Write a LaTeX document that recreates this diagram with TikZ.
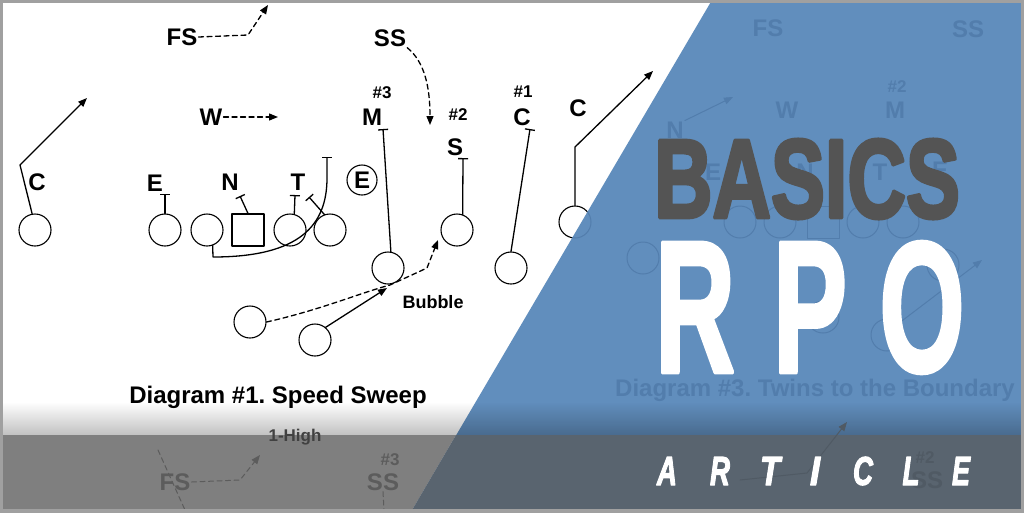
\documentclass[tikz,border=0pt]{standalone}
\usepackage{fontspec}
\setmainfont{Liberation Sans}
\newfontfamily\titlefont[FakeBold=3.5]{Liberation Sans Bold}
\newfontfamily\rpofont[FakeBold=2.5]{Liberation Sans Bold}
\newfontfamily\tagfont[FakeBold=3]{Liberation Sans Bold Italic}
\usepackage{graphicx}
\usetikzlibrary{arrows.meta,fadings}
\frenchspacing

\definecolor{boxblue}{RGB}{97,142,189}
\definecolor{ghostblue}{RGB}{82,125,172}
\definecolor{bargray}{RGB}{127,127,127}
\definecolor{barslate}{RGB}{89,100,111}
\definecolor{ghostgray}{RGB}{92,92,92}
\definecolor{ghostslate}{RGB}{80,90,100}
\definecolor{titlegray}{RGB}{84,84,84}
\definecolor{framegray}{RGB}{160,160,160}

\begin{document}
\begin{tikzpicture}[x=1pt,y=-1pt,line cap=round,line join=round,>={Triangle[length=9pt,width=7pt]},
  player/.style={circle,draw,line width=1.1pt,minimum size=32pt,inner sep=0pt},
  lineman/.style={rectangle,draw,line width=1.1pt,minimum size=32pt,inner sep=0pt},
  defl/.style={font=\fontsize{24}{24}\selectfont\bfseries,inner sep=1pt},
  numl/.style={font=\fontsize{17}{17}\selectfont\bfseries,inner sep=1pt},
  route/.style={line width=1.3pt},
  dashroute/.style={route,dash pattern=on 5pt off 3.5pt},
  blk/.style={route,-{Bar[width=10pt]}},
  ghost/.style={ghostblue,line width=1pt},
  ghostl/.style={defl,text=ghostblue},
  bigletter/.style={inner sep=0pt,text=white}]
\useasboundingbox (0,0) rectangle (1024,512);
\fill[white] (0,0) rectangle (1024,512);
\node[player] (wl) at (35,230) {};
\node[player] (tl) at (165,230) {};
\node[player] (gl) at (207,230) {};
\node[lineman] (ctr) at (248,230) {};
\node[player] (gr) at (290,230) {};
\node[player] (tr) at (330,230) {};
\node[player] (wing) at (388,268) {};
\node[player] (slot) at (457,230) {};
\node[player] (xrec) at (511,268) {};
\node[player] (zrec) at (575,222) {};
\node[player] (qb) at (250,322) {};
\node[player] (hb) at (315,340) {};
\node[defl] (fs) at (182,37) {FS};
\node[defl] (ss) at (390,38) {SS};
\node[defl] (wlb) at (211,117) {W};
\node[defl] (mlb) at (372,117) {M};
\node[numl] (num3) at (382,93) {\#3};
\node[defl] (slb) at (455,147) {S};
\node[numl] (num2) at (458,115) {\#2};
\node[defl] (cbone) at (522,117) {C};
\node[numl] (num1) at (523,92) {\#1};
\node[defl] (cbtwo) at (578,108) {C};
\node[defl] (cbleft) at (37,182) {C};
\node[defl] (deleft) at (155,183) {E};
\node[defl] (nose) at (230,182) {N};
\node[defl] (tackle) at (298,182) {T};
\node[defl,circle,draw,line width=1.1pt,inner sep=0pt,minimum size=30pt] (deright) at (362,180) {E};
\node[font=\fontsize{18}{18}\selectfont\bfseries] (bubble) at (433,302) {Bubble};
\node[font=\fontsize{24}{24}\selectfont\bfseries] (caption) at (278,397) {Diagram \#1. Speed Sweep};
\draw[route,->] (wl.100) -- (20,165) -- (87,98);
\draw[blk] (tl.north) -- (165,194);
\draw[blk] (ctr.north) -- (240,196);
\draw[blk] (gr.75) -- (295,195);
\draw[blk] (tr.110) -- (309,197);
\draw[blk] (gl.-70) -- (213,257) .. controls (300,257) and (327,225) .. (327,178) -- (327,157);
\draw[blk] (wing.80) -- (383,129);
\draw[blk] (slot.70) -- (463,158);
\draw[blk] (xrec.north) -- (530,129);
\draw[route,->] (zrec.north) -- (575,147) -- (653,71);
\draw[dashroute,->] (fs.east) -- (248,35) -- (268,5);
\draw[dashroute,->] (wlb.east) -- (278,117);
\draw[dashroute,->] (ss.south east) .. controls (425,62) and (430,88) .. (430,125);
\draw[route,->] (hb.50) -- (387,288);
\draw[dashroute,->] (qb.east) .. controls (320,310) and (360,293) .. (390,285) -- (427,268) -- (438,240);
\fill[boxblue] (712,0) -- (1024,0) -- (1024,512) -- (411,512) -- cycle;
\begin{scope}
\clip (712,0) -- (1024,0) -- (1024,512) -- (411,512) -- cycle;
\draw[ghost] (zrec) circle (16pt);
\end{scope}
\node[ghostl] (gfs) at (768,28) {FS};
\node[ghostl] (gss) at (968,29) {SS};
\node[ghostl,font=\fontsize{17}{17}\selectfont\bfseries] (gnum2) at (897,87) {\#2};
\node[ghostl] (gm) at (895,110) {M};
\node[ghostl] (gw) at (787,110) {W};
\node[ghostl] (gn) at (675,130) {N};
\node[ghostl] (ge) at (713,172) {E};
\node[ghostl] (gnose) at (805,172) {N};
\node[ghostl] (gt) at (880,172) {T};
\node[ghostl] (geright) at (940,170) {E};
\node[player,ghost] (gp1) at (740,222) {};
\node[player,ghost] (gp2) at (780,222) {};
\node[lineman,ghost] (gp3) at (823,222) {};
\node[player,ghost] (gp4) at (863,222) {};
\node[player,ghost] (gp5) at (903,222) {};
\node[player,ghost] (gp6) at (643,258) {};
\node[player,ghost] (gp7) at (823,317) {};
\node[player,ghost] (gp8) at (887,335) {};
\node[player,ghost] (gp9) at (943,265) {};
\draw[ghost,->] (gn.north east) -- (733,97);
\draw[ghost,->] (gp8.45) -- (982,260);
\node[ghostl] (gcaption) at (815,390) {Diagram \#3. Twins to the Boundary};
\fill[black,opacity=0.25,path fading=north] (0,402) rectangle (1024,436);
\fill[bargray] (0,435) -- (456,435) -- (411,512) -- (0,512) -- cycle;
\fill[barslate] (456,435) -- (1024,435) -- (1024,512) -- (411,512) -- cycle;
\node[font=\fontsize{17}{17}\selectfont\bfseries,text=ghostgray!70!black] (onehigh) at (295,437) {1-High};
\node[defl,text=ghostgray] (bfs) at (175,482) {FS};
\node[defl,text=ghostgray] (bss) at (383,482) {SS};
\node[numl,text=ghostgray] (bnum3) at (390,460) {\#3};
\draw[dashroute,ghostgray,line width=1pt] (158,450) -- (185,510);
\draw[dashroute,ghostgray,line width=1pt,->] (bfs.east) -- (240,480) -- (260,455);
\draw[dashroute,ghostgray,line width=1pt] (bss.south) -- (384,510);
\node[defl,text=ghostslate] (bss2) at (927,480) {SS};
\node[numl,text=ghostslate] (bnum2) at (925,458) {\#2};
\draw[ghostslate,line width=1pt,->] (740,480) -- (807,473) -- (847,422);
\node[inner sep=0pt,text=titlegray] (basics) at (807,179) {\resizebox{306pt}{78pt}{\titlefont BASICS}};
\node[bigletter] (rpoR) at (695,307.5) {\resizebox{80pt}{129pt}{\rpofont R}};
\node[bigletter] (rpoP) at (810,307.5) {\resizebox{74pt}{129pt}{\rpofont P}};
\node[bigletter] (rpoO) at (922,307.5) {\resizebox{85pt}{129pt}{\rpofont O}};
\foreach \ch/\xc/\lw in {A/667/20,R/720/20,T/770/20,I/815/10,C/863/20,L/911/17,E/961/18}
  \node[bigletter] (art\ch) at (\xc,471) {\resizebox{\lw pt}{28pt}{\tagfont \ch}};
\draw[framegray,line width=6pt] (0,0) rectangle (1024,512);
\end{tikzpicture}
\end{document}
